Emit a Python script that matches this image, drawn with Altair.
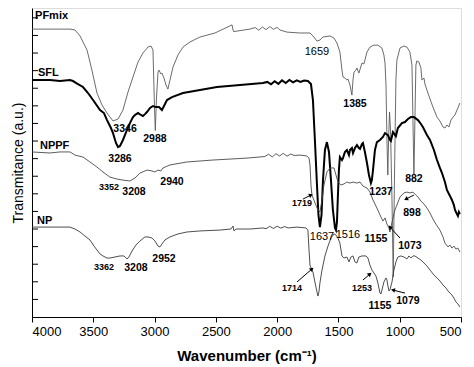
import math
import altair as alt
import pandas as pd

# ---------------- data (wavenumber cm-1, transmittance a.u.) ----------------
PFMIX = [
    (4000, 16.36), (3853, 16.36), (3690, 16.36), (3649, 16.31), (3608, 15.97),
    (3551, 15.17), (3511, 14.03), (3470, 12.73), (3429, 12.05), (3388, 11.59),
    (3339, 11.14), (3298, 11.25), (3258, 11.76), (3217, 12.78), (3176, 13.64),
    (3135, 14.49), (3095, 15.00), (3054, 15.34), (3029, 15.40), (3013, 15.17),
    (3001, 12.00), (2994, 10.60), (2984, 12.50), (2972, 13.92), (2964, 14.03),
    (2956, 13.92), (2948, 13.81), (2940, 13.86), (2923, 13.58), (2907, 13.18),
    (2891, 12.95), (2874, 13.47), (2850, 14.20), (2809, 14.89), (2768, 15.34),
    (2711, 15.63), (2630, 15.91), (2507, 16.14), (2368, 16.60), (2360, 16.31),
    (2355, 16.22), (2222, 16.36), (2180, 16.45), (2150, 16.30), (2120, 16.48),
    (2090, 16.33), (2060, 16.50), (2030, 16.35), (2000, 16.46), (1977, 16.31),
    (1920, 16.19), (1814, 16.14), (1732, 16.14), (1700, 15.91), (1675, 15.68),
    (1651, 15.74), (1626, 15.91), (1569, 15.97), (1536, 15.85), (1512, 15.57),
    (1488, 15.06), (1471, 14.03), (1463, 13.64), (1447, 13.58), (1431, 13.47),
    (1422, 13.52), (1406, 13.18), (1390, 12.61), (1381, 13.47), (1373, 13.92),
    (1357, 14.03), (1349, 14.15), (1333, 13.86), (1308, 14.43), (1292, 14.38),
    (1267, 15.06), (1243, 15.34), (1210, 15.45), (1178, 15.45), (1145, 15.28),
    (1129, 14.89), (1120, 14.43), (1112, 13.18), (1104, 10.06), (1097, 8.07),
    (1091, 10.06), (1083, 11.65), (1075, 10.63), (1063, 6.65), (1053, 2.27),
    (1043, 7.78), (1031, 13.47), (1023, 14.60), (998, 15.28), (966, 15.40),
    (941, 15.34), (917, 15.06), (900, 14.32), (892, 11.19), (884, 8.07),
    (876, 11.19), (868, 14.32), (860, 14.55), (843, 14.49), (827, 14.15),
    (819, 13.47), (802, 13.58), (794, 13.24), (770, 12.73), (729, 11.93),
    (696, 11.36), (672, 11.14), (647, 10.80), (631, 10.74), (615, 10.91),
    (598, 10.80), (582, 11.19), (566, 11.36), (549, 11.48), (533, 11.76),
    (525, 11.88), (509, 12.16),
]

SFL = [
    (4000, 13.47), (3853, 13.47), (3772, 13.41), (3690, 13.47), (3666, 13.41),
    (3625, 13.24), (3584, 13.07), (3543, 12.73), (3502, 12.33), (3445, 11.76),
    (3413, 11.59), (3388, 11.19), (3356, 10.74), (3339, 10.45), (3315, 9.89),
    (3298, 9.66), (3282, 9.72), (3258, 10.06), (3225, 10.63), (3201, 11.02),
    (3176, 11.36), (3160, 11.48), (3135, 11.59), (3111, 11.48), (3095, 11.42),
    (3078, 11.53), (3062, 11.65), (3037, 11.88), (3013, 11.99), (2989, 11.93),
    (2964, 11.93), (2940, 11.76), (2923, 11.99), (2899, 12.33), (2858, 12.50),
    (2768, 12.73), (2630, 12.90), (2491, 13.07), (2303, 13.18), (2116, 13.30),
    (2080, 13.36), (2050, 13.22), (2020, 13.40), (1990, 13.25), (1960, 13.45),
    (1930, 13.30), (1900, 13.47), (1870, 13.33), (1840, 13.45), (1810, 13.36),
    (1780, 13.44), (1749, 13.41), (1724, 13.24), (1708, 12.33), (1692, 10.06),
    (1675, 7.50), (1663, 5.80), (1651, 5.11), (1638, 5.80), (1626, 7.78),
    (1610, 9.49), (1594, 9.94), (1577, 9.38), (1561, 7.78), (1545, 6.08),
    (1528, 5.06), (1520, 4.94), (1512, 5.40), (1504, 6.93), (1496, 8.35),
    (1488, 9.09), (1471, 8.92), (1463, 9.03), (1447, 9.38), (1431, 9.49),
    (1414, 9.20), (1406, 9.49), (1390, 9.60), (1381, 9.32), (1365, 9.60),
    (1349, 9.77), (1333, 9.60), (1324, 9.55), (1308, 9.83), (1300, 9.89),
    (1284, 9.38), (1267, 8.75), (1251, 8.07), (1235, 7.61), (1227, 7.78),
    (1218, 8.35), (1202, 9.49), (1186, 9.94), (1161, 10.06), (1137, 10.23),
    (1120, 10.45), (1096, 10.34), (1080, 10.06), (1072, 10.00), (1055, 10.51),
    (1031, 10.28), (1015, 10.74), (982, 11.02), (957, 11.08), (933, 11.25),
    (909, 11.36), (884, 11.36), (851, 11.19), (827, 10.97), (811, 10.80),
    (778, 10.34), (753, 10.06), (721, 9.49), (696, 8.92), (672, 8.47),
    (655, 8.18), (631, 7.67), (615, 7.22), (590, 6.88), (574, 6.65),
    (558, 6.36), (549, 6.08), (533, 5.85), (525, 5.74), (517, 5.97),
    (509, 5.85),
]

NPPF = [
    (4000, 9.38), (3853, 9.32), (3772, 9.38), (3690, 9.38), (3649, 9.20),
    (3584, 9.09), (3527, 8.81), (3470, 8.52), (3421, 8.24), (3364, 7.95),
    (3307, 7.84), (3258, 7.78), (3201, 7.73), (3160, 7.90), (3119, 8.18),
    (3062, 8.35), (3021, 8.30), (2997, 8.24), (2972, 8.35), (2948, 8.30),
    (2931, 8.47), (2874, 8.64), (2736, 8.81), (2524, 8.92), (2246, 9.03),
    (2100, 9.12), (2070, 9.25), (2040, 9.10), (2010, 9.28), (1980, 9.15),
    (1950, 9.30), (1920, 9.14), (1890, 9.26), (1860, 9.18), (1814, 9.20),
    (1757, 9.15), (1740, 9.03), (1732, 8.64), (1724, 7.50), (1716, 6.93),
    (1700, 6.65), (1684, 6.36), (1667, 6.08), (1651, 5.97), (1634, 6.65),
    (1618, 7.50), (1594, 8.24), (1569, 8.47), (1536, 8.47), (1520, 8.07),
    (1504, 7.67), (1480, 7.50), (1455, 7.56), (1431, 7.67), (1406, 7.61),
    (1381, 7.67), (1349, 7.61), (1324, 7.67), (1300, 7.44), (1267, 7.33),
    (1243, 7.10), (1218, 6.65), (1186, 6.19), (1161, 5.80), (1137, 5.45),
    (1120, 5.63), (1104, 5.28), (1088, 5.06), (1080, 4.83), (1072, 5.11),
    (1055, 5.63), (1039, 6.08), (1023, 6.36), (998, 6.82), (966, 7.05),
    (941, 7.10), (917, 7.05), (892, 7.10), (868, 6.93), (851, 6.82),
    (827, 6.59), (802, 6.42), (778, 6.19), (753, 5.91), (729, 5.57),
    (705, 5.28), (672, 4.94), (647, 4.55), (631, 4.20), (606, 3.98),
    (590, 4.09), (574, 3.92), (558, 4.03), (541, 3.86), (525, 3.92),
    (509, 3.69),
]

NP = [
    (4000, 5.11), (3853, 5.11), (3690, 5.11), (3649, 5.00), (3608, 4.83),
    (3568, 4.60), (3527, 4.38), (3494, 4.03), (3470, 3.81), (3445, 3.58),
    (3421, 3.47), (3388, 3.35), (3364, 3.35), (3323, 3.41), (3282, 3.47),
    (3250, 3.47), (3225, 3.30), (3209, 3.41), (3184, 3.75), (3152, 4.09),
    (3119, 4.32), (3078, 4.55), (3054, 4.55), (3021, 4.49), (2997, 4.32),
    (2972, 4.03), (2956, 3.98), (2940, 4.15), (2915, 4.38), (2874, 4.55),
    (2809, 4.72), (2736, 4.83), (2630, 4.89), (2467, 4.94), (2377, 5.00),
    (2360, 5.17), (2352, 4.89), (2336, 5.00), (2222, 5.00), (2116, 5.06),
    (2090, 5.02), (2060, 5.15), (2030, 5.03), (2000, 5.16), (1970, 5.05),
    (1940, 5.14), (1910, 5.06), (1838, 5.11), (1765, 5.06), (1749, 4.94),
    (1740, 3.81), (1732, 2.95), (1716, 2.67), (1708, 2.56), (1692, 1.99),
    (1675, 1.42), (1667, 1.19), (1659, 1.42), (1651, 1.93), (1634, 2.67),
    (1610, 3.47), (1585, 4.03), (1561, 4.49), (1536, 4.72), (1520, 4.66),
    (1504, 4.49), (1488, 4.20), (1471, 3.47), (1455, 3.35), (1431, 3.41),
    (1414, 3.13), (1398, 3.41), (1381, 3.47), (1365, 3.13), (1349, 3.07),
    (1333, 3.41), (1308, 3.47), (1275, 3.47), (1259, 3.35), (1243, 2.95),
    (1227, 2.67), (1210, 2.50), (1194, 2.33), (1178, 1.93), (1161, 1.36),
    (1153, 1.31), (1145, 1.53), (1129, 1.99), (1112, 2.22), (1104, 2.10),
    (1096, 1.76), (1088, 1.48), (1080, 1.53), (1063, 1.99), (1047, 2.67),
    (1031, 3.13), (1015, 3.41), (990, 3.47), (966, 3.41), (941, 3.30),
    (925, 3.47), (909, 3.35), (892, 3.47), (876, 3.47), (851, 3.35),
    (827, 3.24), (802, 3.07), (778, 2.90), (753, 2.67), (721, 2.39),
    (696, 2.22), (672, 2.05), (647, 1.82), (623, 1.65), (606, 1.48),
    (590, 1.36), (574, 1.25), (558, 1.08), (541, 0.85), (525, 0.74),
    (509, 0.57),
]

SERIES = ["PFmix", "SFL", "NPPF", "NP"]

# series name labels (left aligned): text, wn, t
NAME_LABELS = [("PFmix", 3975, 17.10), ("SFL", 3951, 13.86),
               ("NPPF", 3935, 9.72), ("NP", 3959, 5.45)]
# bold peak labels (centered)
PEAK_LABELS = [("3346", 3241, 10.68), ("3286", 3282, 8.98), ("2988", 2997, 10.11),
               ("1385", 1365, 12.10), ("3208", 3168, 7.10), ("2940", 2858, 7.67),
               ("3208", 3152, 2.78), ("2952", 2923, 3.30), ("1237", 1153, 7.10),
               ("882", 884, 7.84), ("898", 900, 5.91), ("1155", 1194, 4.43),
               ("1073", 917, 4.03), ("1155", 1161, 0.63), ("1079", 933, 0.91)]
# small bold peak labels
SMALL_LABELS = [("3352", 3372, 7.39), ("3362", 3413, 2.84), ("1719", 1798, 6.48),
                ("1714", 1879, 1.65), ("1253", 1308, 1.65)]
# regular-weight peak labels
PLAIN_LABELS = [("1659", 1675, 15.06), ("1637", 1634, 4.55), ("1516", 1422, 4.66)]

# arrows: tail (wn, t) -> head (wn, t)
ARROWS = [((1790, 6.70), (1724, 6.93)), ((884, 6.93), (949, 6.70)),
          ((998, 4.49), (1080, 5.11)), ((1838, 1.99), (1716, 2.73)),
          ((1300, 2.10), (1243, 2.44)), ((957, 1.36), (1055, 1.53))]

Y_TICKS = list(range(1, 18))
X_TICKS = list(range(500, 4001, 250))

# ---------------- chart ----------------
W, H = 429, 309
XMIN, XMAX = 500, 4000
YMIN, YMAX = 0, 17.56
FONT = "Liberation Sans"

xscale = alt.Scale(domain=[XMIN, XMAX], reverse=True, nice=False, zero=False)
yscale = alt.Scale(domain=[YMIN, YMAX], nice=False, zero=False)

xaxis = alt.Axis(values=X_TICKS, format="d",
                 labelExpr="datum.value % 500 == 0 ? datum.label : ''",
                 grid=False, tickSize=5, tickColor="black", domainColor="black",
                 labelColor="black", labelFont=FONT, labelFontSize=13, labelPadding=3,
                 titleFont=FONT, titleFontSize=15, titleFontWeight="bold",
                 titleColor="black", titlePadding=10)
yaxis = alt.Axis(ticks=False, labels=False, grid=False, domainColor="black",
                 titleFont=FONT, titleFontSize=14, titleFontWeight="normal",
                 titleColor="black", titlePadding=7)

STYLE = {"PFmix": ("#5a5a5a", 0.9), "SFL": ("#000000", 2.0),
         "NPPF": ("#4a4a4a", 0.9), "NP": ("#3a3a3a", 0.9)}

line_layers = []
for i, (name, pts) in enumerate(zip(SERIES, [PFMIX, SFL, NPPF, NP])):
    d = pd.DataFrame(pts, columns=["wn", "t"])
    col, sw = STYLE[name]
    if i == 0:
        enc = dict(x=alt.X("wn:Q", scale=xscale, axis=xaxis, title="Wavenumber (cm⁻¹)"),
                   y=alt.Y("t:Q", scale=yscale, axis=yaxis, title="Transmitance (a.u.)"))
    else:
        enc = dict(x=alt.X("wn:Q", scale=xscale, title="Wavenumber (cm⁻¹)"),
                   y=alt.Y("t:Q", scale=yscale, title="Transmitance (a.u.)"))
    line_layers.append(alt.Chart(d).mark_line(color=col, strokeWidth=sw).encode(**enc))

ytick_df = pd.DataFrame({"v": Y_TICKS})
yticks = alt.Chart(ytick_df).mark_rule(color="black", strokeWidth=1).encode(
    y=alt.Y("v:Q", scale=yscale, title="Transmitance (a.u.)"),
    x=alt.value(0), x2=alt.value(6))


def text_layer(items, align, size, weight, color="black"):
    d = pd.DataFrame(items, columns=["label", "wn", "t"])
    return alt.Chart(d).mark_text(align=align, baseline="middle", font=FONT,
                                  fontSize=size, fontWeight=weight, color=color).encode(
        x=alt.X("wn:Q", scale=xscale, title="Wavenumber (cm⁻¹)"),
        y=alt.Y("t:Q", scale=yscale, title="Transmitance (a.u.)"),
        text="label:N")


names = text_layer(NAME_LABELS, "left", 11, "bold")
peaks = text_layer(PEAK_LABELS, "center", 10.5, "bold")
smalls = text_layer(SMALL_LABELS, "center", 9, "bold")
plains = text_layer(PLAIN_LABELS, "center", 11, "normal")

px_per_wn = W / (XMAX - XMIN)
px_per_t = H / (YMAX - YMIN)
arows = []
for (tw, tt), (hw, ht) in ARROWS:
    dx = -(hw - tw) * px_per_wn
    dy = -(ht - tt) * px_per_t
    ang = math.degrees(math.atan2(dx, -dy)) % 360
    arows.append({"tw": tw, "tt": tt, "hw": hw, "ht": ht, "ang": ang})
adf = pd.DataFrame(arows)

shafts = alt.Chart(adf).mark_rule(color="black", strokeWidth=1).encode(
    x=alt.X("tw:Q", scale=xscale, title="Wavenumber (cm⁻¹)"), x2="hw:Q",
    y=alt.Y("tt:Q", scale=yscale, title="Transmitance (a.u.)"), y2="ht:Q")
heads = alt.Chart(adf).mark_point(shape="triangle-up", filled=True, color="black",
                                  size=22, opacity=1).encode(
    x=alt.X("hw:Q", scale=xscale, title="Wavenumber (cm⁻¹)"),
    y=alt.Y("ht:Q", scale=yscale, title="Transmitance (a.u.)"),
    angle=alt.Angle("ang:Q", scale=None))

chart = alt.layer(*line_layers, yticks, shafts, heads, names, peaks, smalls, plains).properties(
    width=W, height=H,
    autosize=alt.AutoSizeParams(type="none"),
    padding={"left": 24, "top": 0, "right": 5, "bottom": 50},
).configure_view(stroke=None).configure(background="white")

chart.save("out.html", embed_options={"renderer": "svg", "actions": False})
